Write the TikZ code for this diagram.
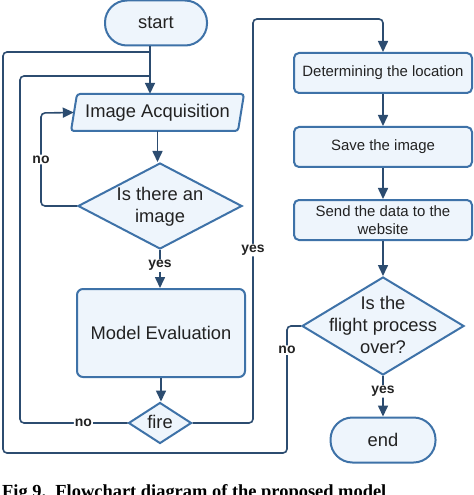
\documentclass[tikz,border=0pt]{standalone}
\usepackage{fontspec}
\setmainfont{Liberation Sans}
\newfontfamily\capfont{Liberation Serif}
\usetikzlibrary{arrows.meta,shapes.geometric}
\definecolor{bord}{HTML}{3E72A8}
\definecolor{connc}{HTML}{2C4C70}
\definecolor{fillb}{HTML}{EEF5FC}
\definecolor{txt}{HTML}{222222}
\begin{document}
\begin{tikzpicture}[x=1bp,y=-1bp,
 box/.style={draw=bord, fill=fillb, line width=2bp, rounded corners=5bp, inner sep=0pt, text=txt, align=center},
 big/.style={font=\fontsize{18.4}{22}\selectfont},
 small/.style={font=\fontsize{15}{18}\selectfont},
 term/.style={box, big, rounded corners=22bp},
 dia/.style={draw=bord, fill=fillb, line width=2bp, diamond, inner sep=0pt},
 dtext/.style={text=txt, align=center, big, inner sep=0pt},
 cline/.style={draw=connc, line width=1.6bp, rounded corners=4bp},
 arr/.style={cline, -{Triangle[length=11bp,width=10bp]}},
 lab/.style={fill=white, inner sep=1bp, text=txt, font=\bfseries\fontsize{14}{16}\selectfont},
]
\useasboundingbox (0,0) rectangle (474,495);
\clip (0,0) rectangle (474,495);
\fill[white] (0,0) rectangle (474,495);

% left column
\node[term, minimum width=102bp, minimum height=45bp] (start) at (156,23) {start};
\filldraw[draw=bord, fill=fillb, line width=2bp, rounded corners=3bp] (71,131) -- (77,94) -- (244,94) -- (238,131) -- cycle;
\node[big, text=txt, minimum width=167bp, minimum height=37bp, inner sep=0pt] (acq) at (157.5,112.5) {Image Acquisition};
\node[dia, minimum width=164bp, minimum height=86bp] (d1) at (160,206) {};
\node[dtext] (d1t) at (160,207) {Is there an\\image};
\node[box, big, rounded corners=6bp, minimum width=168bp, minimum height=88bp] (model) at (161,333) {Model Evaluation};
\node[dia, minimum width=63bp, minimum height=41bp] (fire) at (160,423) {};
\node[dtext] (firet) at (160,422) {fire};

% right column
\node[box, small, minimum width=178bp, minimum height=40bp] (det) at (383,73) {Determining the location};
\node[box, small, minimum width=178bp, minimum height=40bp] (save) at (383,147) {Save the image};
\node[box, small, minimum width=178bp, minimum height=40bp] (send) at (383,220) {Send the data to the\\website};
\node[dia, minimum width=162bp, minimum height=98bp] (flight) at (383,326) {};
\node[dtext] (flightt) at (383,325) {Is the\\flight process\\over?};
\node[term, minimum width=105bp, minimum height=45bp] (stop) at (383,440) {end};

% connectors
\coordinate (jA) at (150,52);
\coordinate (jB) at (150,76);
\draw[arr] (start.south -| jA) -- (acq.north -| jA);
\draw[cline] (flight.west) -- (287,326) -- node[lab,pos=0.19]{no} (287,453) -- (3,453) -- (3,52) -- (jA);
\draw[cline] (fire.west) -- node[lab,pos=0.41]{no} (20,423) -- (20,76) -- (jB);
\draw[arr] (d1.west) -- (41,206) -- node[lab]{no} (41,113) -- (acq.west);
\draw[arr] (acq.south) -- (acq.south |- d1.north);
\draw[arr] (d1.south) -- node[lab,pos=0.41]{yes} (d1.south |- model.north);
\draw[arr] (model.south) -- (model.south |- fire.north);
\draw[arr] (fire.east) -- (253,423) -- node[lab,pos=0.428]{yes} (253,19) -- (383,19) -- (det.north);
\draw[arr] (det.south) -- (save.north);
\draw[arr] (save.south) -- (send.north);
\draw[arr] (send.south) -- (flight.north);
\draw[arr] (flight.south) -- node[lab,pos=0.38]{yes} (stop.north);

% caption (cut off at the bottom edge)
\node[anchor=base west, inner sep=0pt, font=\capfont\bfseries\fontsize{18.5}{20}\selectfont, text=black] (cap) at (2,497) {Fig 9.\ \ Flowchart diagram of the proposed model};
\end{tikzpicture}
\end{document}
